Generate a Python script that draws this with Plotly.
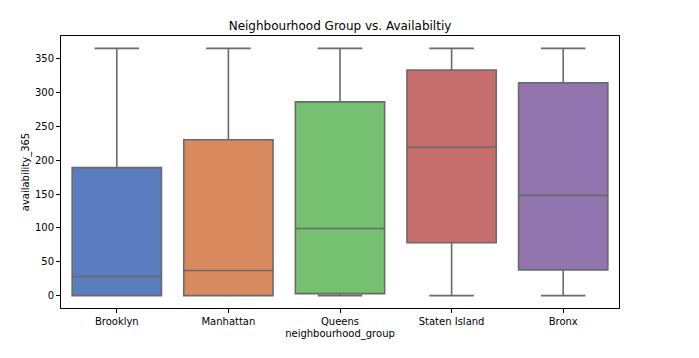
import plotly.graph_objects as go

categories = ["Brooklyn", "Manhattan", "Queens", "Staten Island", "Bronx"]
q1 = [0, 0, 3, 78, 38]
median = [28, 37, 99, 219, 148]
q3 = [189, 230, 286, 333, 314]
lowerfence = [0, 0, 0, 0, 0]
upperfence = [365, 365, 365, 365, 365]
colors = ["#5a7dc0", "#d98b5f", "#76c071", "#c56d6b", "#9275ae"]

fig = go.Figure()
for i, c in enumerate(categories):
    fig.add_trace(go.Box(
        x=[c], q1=[q1[i]], median=[median[i]], q3=[q3[i]],
        lowerfence=[lowerfence[i]], upperfence=[upperfence[i]],
        fillcolor=colors[i], line=dict(color="#6a6a6a", width=1.6),
        width=0.8, whiskerwidth=0.5, boxpoints=False, showlegend=False,
        opacity=1,
    ))

# page body has an 8px margin, so the figure is offset by 8px
W, H = 691, 350
L, R, T, B = 53, 80, 28, 50

fig.update_layout(
    width=W, height=H,
    margin=dict(l=L, r=R, t=T, b=B),
    paper_bgcolor="white", plot_bgcolor="white",
    boxmode="overlay",
    font=dict(family="DejaVu Sans", size=10, color="black"),
    title=dict(text="Neighbourhood Group vs. Availabiltiy", x=(L + (W - L - R) / 2) / W,
               xanchor="center", y=1 - 18 / H, yanchor="middle",
               font=dict(size=12, color="black")),
    xaxis=dict(
        range=[-0.5, 4.5], showgrid=False, zeroline=False,
        showline=True, linecolor="black", linewidth=1, mirror=True,
        ticks="outside", ticklen=4, tickcolor="black",
        title=dict(text="neighbourhood_group", standoff=3, font=dict(size=10)),
    ),
    yaxis=dict(
        range=[-18.25, 383.25], showgrid=False, zeroline=False,
        showline=True, linecolor="black", linewidth=1, mirror=True,
        ticks="outside", ticklen=4, tickcolor="black",
        tickvals=[0, 50, 100, 150, 200, 250, 300, 350],
        title=dict(text="availability_365", standoff=3, font=dict(size=10)),
        automargin=False,
    ),
)

fig.write_html("out.html")
